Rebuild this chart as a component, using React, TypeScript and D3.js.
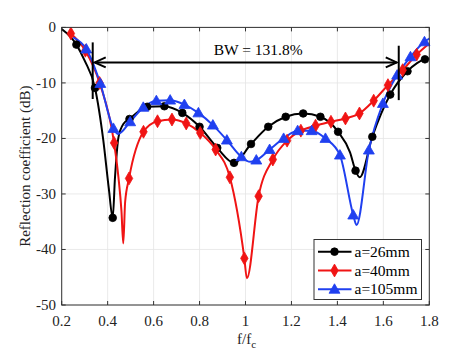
import React from "react";
import * as d3 from "d3";

// ---- data ----
const xTicks = [0.2, 0.4, 0.6, 0.8, 1.0, 1.2, 1.4, 1.6, 1.8];
const xTickLabels = ["0.2", "0.4", "0.6", "0.8", "1", "1.2", "1.4", "1.6", "1.8"];
const yTicks = [0, -10, -20, -30, -40, -50];
const yTickLabels = ["0", "-10", "-20", "-30", "-40", "-50"];

const seriesNames = ["a=26mm", "a=40mm", "a=105mm"];

const line26: [number, number][] = [
  [0.2, -0.3], [0.264, -3.1], [0.3, -6.0], [0.345, -10.9], [0.381, -20.3], [0.405, -29.0],
  [0.422, -34.3], [0.432, -27.0], [0.447, -19.8], [0.47, -17.3], [0.495, -16.5],
  [0.572, -14.3], [0.647, -14.2], [0.725, -15.4], [0.8, -17.9], [0.877, -21.7],
  [0.95, -24.4], [1.024, -21.0], [1.099, -17.9], [1.175, -16.1], [1.251, -15.5],
  [1.326, -16.1], [1.403, -18.8], [1.455, -22.5], [1.479, -25.8], [1.497, -27.0],
  [1.552, -19.7], [1.63, -12.1], [1.705, -7.9], [1.781, -5.75], [1.8, -5.6],
];
const marks26 = [1, 3, 6, 10, 11, 12, 13, 14, 15, 16, 17, 18, 19, 20, 21, 22, 24, 26, 27, 28, 29];

const line40: [number, number][] = [
  [0.24, -1.1], [0.303, -4.2], [0.365, -10.0], [0.428, -20.8], [0.447, -27.0],
  [0.46, -33.0], [0.468, -38.9], [0.476, -31.5], [0.493, -27.2], [0.556, -18.8],
  [0.617, -16.9], [0.68, -16.6], [0.742, -17.3], [0.803, -19.0], [0.87, -22.0],
  [0.932, -27.0], [0.995, -41.6], [1.006, -45.2], [1.057, -30.4], [1.119, -23.8],
  [1.181, -20.4], [1.241, -18.6], [1.305, -17.7], [1.372, -17.0], [1.435, -16.4],
  [1.496, -15.5], [1.558, -13.2], [1.62, -10.4], [1.684, -7.7], [1.745, -4.9], [1.8, -2.9],
];
const marks40 = [0, 1, 2, 3, 8, 9, 10, 11, 12, 13, 14, 15, 16, 18, 19, 20, 21, 22, 23, 24, 25, 26, 27, 28, 29];

const line105: [number, number][] = [
  [0.25, -1.8], [0.307, -3.9], [0.368, -10.1], [0.425, -18.2], [0.444, -19.2],
  [0.498, -17.0], [0.555, -14.4], [0.612, -13.2], [0.672, -13.1], [0.734, -13.9],
  [0.795, -15.4], [0.858, -17.6], [0.919, -20.3], [0.982, -23.3], [1.02, -24.2],
  [1.047, -23.9], [1.105, -22.0], [1.166, -20.0], [1.227, -18.6], [1.288, -18.6],
  [1.348, -20.0], [1.411, -23.0], [1.469, -33.8], [1.483, -35.6], [1.537, -22.1],
  [1.598, -13.7], [1.66, -8.6], [1.718, -5.3], [1.779, -2.6], [1.8, -2.0],
];
const marks105 = [1, 2, 3, 5, 6, 7, 8, 9, 10, 11, 12, 13, 15, 16, 17, 18, 19, 20, 21, 22, 24, 25, 26, 27, 28];

const bwEdges = [0.335, 1.667];
const bwBarLeft = [-2.7, -12.9];
const bwBarRight = [-3.3, -13.1];
const bwArrowDb = -6.3;
const bwLabel = "BW = 131.8%";
const bwLabelPos = [1.055, -4.95];

// ---- layout ----
const W = 474, H = 355;
const x = d3.scaleLinear().domain([0.2, 1.8]).range([61.7, 429.3]);
const y = d3.scaleLinear().domain([-50, 0]).range([305, 27.4]);

const colors = ["#000000", "#f01414", "#2040f0"];
const symbols = [d3.symbolCircle, d3.symbolDiamond, d3.symbolTriangle];
const symSizes = [46, 48, 52];
const FONT = "Liberation Serif, Times New Roman, DejaVu Serif, serif";
const fs = { fontFamily: FONT };

const lineGen = d3
  .line<[number, number]>()
  .x((d) => x(d[0]))
  .y((d) => y(d[1]))
  .curve(d3.curveMonotoneX);

export default function App() {
  const series = [
    { data: line26, marks: marks26 },
    { data: line40, marks: marks40 },
    { data: line105, marks: marks105 },
  ];
  const x0 = x.range()[0], x1 = x.range()[1];
  const yTop = y.range()[1], yBot = y.range()[0];
  const tick = 4;

  const arrowY = y(bwArrowDb);
  const lx = x(bwEdges[0]) + 2, rx = x(bwEdges[1]) - 2;

  const lg = { x: 314, y: 239.5, w: 107.5, h: 60 };
  const rowY = [251.7, 270.5, 289.3];

  return (
    <svg
      width={W}
      height={H}
      style={{ position: "absolute", left: 0, top: 0, background: "#fff", fontFamily: FONT }}
    >
      <rect x={0} y={0} width={W} height={H} fill="#fff" />
      {xTicks.map((t, i) => (
        <line key={"gx" + i} x1={x(t)} x2={x(t)} y1={yTop} y2={yBot} stroke="#e4e4e4" strokeWidth={0.8} />
      ))}
      {yTicks.map((t, i) => (
        <line key={"gy" + i} x1={x0} x2={x1} y1={y(t)} y2={y(t)} stroke="#e4e4e4" strokeWidth={0.8} />
      ))}

      <defs>
        <clipPath id="clip">
          <rect x={x0} y={yTop - 6} width={x1 - x0 + 4} height={yBot - yTop + 6} />
        </clipPath>
      </defs>
      <g clipPath="url(#clip)">
        {series.map((s, i) => (
          <path key={"l" + i} d={lineGen(s.data) || ""} fill="none" stroke={colors[i]} strokeWidth={2} />
        ))}
        {series.map((s, i) =>
          s.marks.map((mi) => {
            const p = s.data[mi];
            return (
              <path
                key={"m" + i + "-" + mi}
                d={d3.symbol(symbols[i], symSizes[i])() || ""}
                transform={`translate(${x(p[0])},${y(p[1]) + (i === 2 ? 0.8 : 0)})`}
                fill={colors[i]}
                stroke={colors[i]}
                strokeWidth={0.8}
              />
            );
          })
        )}
      </g>

      <line x1={x(bwEdges[0])} x2={x(bwEdges[0])} y1={y(bwBarLeft[0])} y2={y(bwBarLeft[1])} stroke="#000" strokeWidth={2} />
      <line x1={x(bwEdges[1])} x2={x(bwEdges[1])} y1={y(bwBarRight[0])} y2={y(bwBarRight[1])} stroke="#000" strokeWidth={2} />
      <line x1={lx} x2={rx} y1={arrowY} y2={arrowY} stroke="#000" strokeWidth={2} />
      <path d={`M${lx + 11},${arrowY - 5} L${lx},${arrowY} L${lx + 11},${arrowY + 5}`} fill="none" stroke="#000" strokeWidth={2} />
      <path d={`M${rx - 11},${arrowY - 5} L${rx},${arrowY} L${rx - 11},${arrowY + 5}`} fill="none" stroke="#000" strokeWidth={2} />
      <text x={x(bwLabelPos[0])} y={y(bwLabelPos[1])} textAnchor="middle" fontSize={15.5} fill="#000" style={fs}>
        {bwLabel}
      </text>

      <rect x={x0} y={yTop} width={x1 - x0} height={yBot - yTop} fill="none" stroke="#333" strokeWidth={1} />
      {xTicks.map((t, i) => (
        <g key={"tx" + i}>
          <line x1={x(t)} x2={x(t)} y1={yBot} y2={yBot - tick} stroke="#333" />
          <line x1={x(t)} x2={x(t)} y1={yTop} y2={yTop + tick} stroke="#333" />
          <text x={x(t)} y={326} textAnchor="middle" fontSize={15} fill="#222" style={fs}>
            {xTickLabels[i]}
          </text>
        </g>
      ))}
      {yTicks.map((t, i) => (
        <g key={"ty" + i}>
          <line x1={x0} x2={x0 + tick} y1={y(t)} y2={y(t)} stroke="#333" />
          <line x1={x1} x2={x1 - tick} y1={y(t)} y2={y(t)} stroke="#333" />
          <text x={56} y={y(t) + 5} textAnchor="end" fontSize={15} fill="#222" style={fs}>
            {yTickLabels[i]}
          </text>
        </g>
      ))}

      <text x={237} y={344} fontSize={15} fill="#222" style={fs}>
        f/f
        <tspan fontSize={11} dy={4}>c</tspan>
      </text>
      <text
        transform={`translate(29.5,${(yTop + yBot) / 2}) rotate(-90)`}
        textAnchor="middle"
        fontSize={15}
        fill="#222"
        style={fs}
      >
        Reflection coefficient (dB)
      </text>

      <rect x={lg.x} y={lg.y} width={lg.w} height={lg.h} fill="#fff" stroke="#333" strokeWidth={1} />
      {seriesNames.map((n, i) => (
        <g key={"lg" + i}>
          <line x1={318} x2={351.5} y1={rowY[i]} y2={rowY[i]} stroke={colors[i]} strokeWidth={2} />
          <path
            d={d3.symbol(symbols[i], symSizes[i])() || ""}
            transform={`translate(334.5,${rowY[i] + (i === 2 ? 0.8 : 0)})`}
            fill={colors[i]}
            stroke={colors[i]}
            strokeWidth={0.8}
          />
          <text x={354.5} y={rowY[i] + 5} fontSize={15.5} fill="#000" style={fs}>
            {n}
          </text>
        </g>
      ))}
    </svg>
  );
}
